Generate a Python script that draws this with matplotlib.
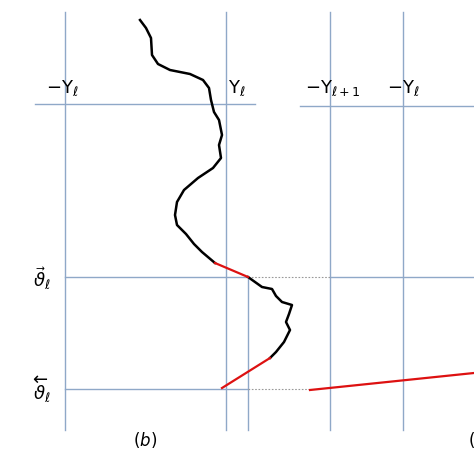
import matplotlib
matplotlib.use("Agg")
import matplotlib.pyplot as plt

# diagram coordinates in pixel units of the original picture
path_top_x = [140, 146, 151, 152, 158, 170, 190, 203, 209, 211, 214, 219, 222, 219, 221, 213, 198, 184, 177, 175, 177, 186, 194, 202, 215]
path_top_y = [20, 28, 38, 55, 64, 70, 74, 80, 88, 100, 112, 120, 135, 145, 158, 168, 178, 190, 202, 215, 225, 234, 244, 252, 263]
path_bot_x = [248, 255, 262, 272, 276, 282, 292, 289, 286, 290, 284, 276, 270]
path_bot_y = [277, 282, 287, 289, 296, 302, 305, 314, 322, 330, 342, 352, 358]
red_x = [[215, 248], [270, 222], [310, 474]]
red_y = [[263, 277], [358, 388], [390, 373]]

vlines = [(65, 12, 430), (226, 12, 430), (248, 277, 430), (330, 12, 430), (403, 12, 430)]
hlines = [(104, 35, 255), (106, 300, 474), (277, 65, 248), (277, 330, 474), (389, 65, 248)]
dotted = [(277, 248, 330), (389, 248, 310)]

fig = plt.figure(figsize=(4.74, 4.74), dpi=100)
ax = fig.add_axes([0, 0, 1, 1])
ax.set_xlim(0, 474); ax.set_ylim(474, 0); ax.axis("off")
lc = "#8fa8c8"
for x, y0, y1 in vlines:
    ax.plot([x, x], [y0, y1], color=lc, lw=1)
for y, x0, x1 in hlines:
    ax.plot([x0, x1], [y, y], color=lc, lw=1)
for y, x0, x1 in dotted:
    ax.plot([x0, x1], [y, y], color="#999999", lw=0.8, ls=(0, (1.5, 1.5)))
ax.plot(path_top_x, path_top_y, color="black", lw=1.8)
ax.plot(path_bot_x, path_bot_y, color="black", lw=1.8)
for xs, ys in zip(red_x, red_y):
    ax.plot(xs, ys, color="#dd1111", lw=1.6)

fs = 13
ax.text(62, 88, r"$-\Upsilon_\ell$", fontsize=fs, ha="center", va="center")
ax.text(237, 88, r"$\Upsilon_\ell$", fontsize=fs, ha="center", va="center")
ax.text(333, 88, r"$-\Upsilon_{\ell+1}$", fontsize=fs, ha="center", va="center")
ax.text(403, 88, r"$-\Upsilon_\ell$", fontsize=fs, ha="center", va="center")
ax.text(42, 279, r"$\vec{\vartheta}_\ell$", fontsize=fs, ha="center", va="center")
ax.text(42, 390, r"$\overleftarrow{\vartheta}_\ell$", fontsize=fs, ha="center", va="center")
ax.text(145, 440, r"$(b)$", fontsize=12, ha="center", va="center")
ax.text(472, 440, r"$($", fontsize=12, ha="center", va="center")
fig.savefig("out.png", dpi=100)
